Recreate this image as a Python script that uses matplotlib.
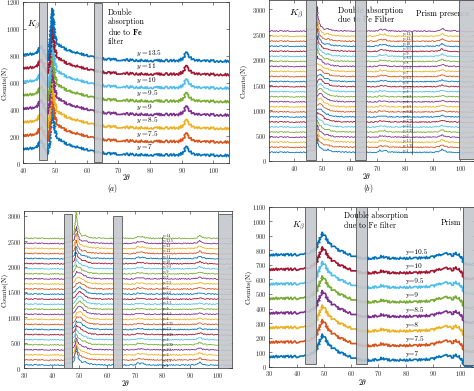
import numpy as np
import matplotlib
matplotlib.use("Agg")
import matplotlib.pyplot as plt
from matplotlib.patches import Rectangle

plt.rcParams["font.family"] = "serif"
plt.rcParams["font.serif"] = ["cmr10", "DejaVu Serif"]
plt.rcParams["mathtext.fontset"] = "cm"
plt.rcParams["axes.formatter.use_mathtext"] = True
plt.rcParams["axes.unicode_minus"] = False

matlab_colors = ["#0072BD", "#D95319", "#EDB120", "#7E2F8E", "#77AC30", "#4DBEEE", "#A2142F"]

# ---------------- panel (a) ----------------
xa = [40, 42, 44, 44.8, 45.5, 46.2, 46.8, 47.5, 48.2, 48.8, 49.3, 49.8, 50.3, 51, 52, 54, 56, 58, 60, 62,
      64, 66, 70, 75, 80, 85, 89, 90.5, 91.5, 92.3, 93.5, 96, 100, 105]
shape_a = [0, 0, 5, 30, 60, 40, 5, -45, 20, 200, 340, 170, 100, 75, 55, 30, 15, 5, -10, -20,
           -30, -35, -42, -45, -47, -48, -48, -30, 15, -15, -40, -48, -50, -52]
offsets_a = [110, 210, 310, 410, 510, 610, 710, 810]
labels_a = ["7", "7.5", "8.5", "9", "9.5", "10", "11", "13.5"]

# ---------------- panel (b) ----------------
xb = [31, 34, 37, 40, 42, 43.5, 44.5, 45.2, 45.8, 46.5, 47.2, 47.7, 48.0, 48.3, 48.7, 49.2, 49.7, 50.3, 51.0, 51.7,
      52.3, 53.0, 54.5, 57, 60, 63, 66, 68.5, 70.2, 71.0, 71.9, 72.8, 73.8, 76, 80, 84, 88, 91, 92.5, 93.5,
      94.5, 96, 98, 100, 102.5, 105]
sharp_b = [0, 0, 0, 0, 0, 0, 0, 0, 0, 0, 0.02, 0.12, 0.5, 1.0, 0.45, 0.2, 0.1, 0.05, 0.02, 0,
           0, 0, 0, 0, 0, 0, 0, 0, 0, 0, 0, 0, 0, 0, 0, 0, 0, 0, 0, 0,
           0, 0, 0, 0, 0, 0]
broad_b = [0, 0, 0, 0, 0, 0, 0, 0, 0, 0, 0, 0.1, 0.25, 0.45, 0.75, 0.95, 1.0, 0.75, 0.45, 0.28,
           0.18, 0.1, 0.04, 0, 0, 0, 0, 0, 0, 0, 0, 0, 0, 0, 0, 0, 0, 0, 0, 0,
           0, 0, 0, 0, 0, 0]
minor_b = [0, 0, 0, 0, 0, 0, 2, 30, 45, 30, 40, 30, 20, 10, 5, 0, 0, 0, 0, 25,
           45, 20, 10, 5, 0, 0, 0, -3, 5, 40, 22, 40, 8, 0, -3, -3, -2, 0, 15, 60,
           18, 2, 0, -5, -10, -10]
offsets_b = [170, 270, 370, 470, 570, 670, 770, 870, 970, 1070, 1170, 1270, 1370, 1470, 1570, 1670,
             1770, 1870, 1970, 2070, 2170, 2270, 2370, 2470, 2570]
amp_sharp_b = [230, 220, 200, 190, 180, 150, 120, 80, 50, 30, 20, 10, 10, 20, 30, 60, 100, 150, 200,
               240, 280, 320, 350, 380, 450]
amp_broad_b = [60, 70, 80, 90, 100, 120, 140, 150, 160, 170, 170, 170, 160, 150, 140, 130, 120, 110,
               100, 90, 80, 70, 60, 60, 50]
amp_minor_b = [1.0, 0.8, 0.9, 0.7, 0.8, 0.6, 0.6, 0.5, 0.5, 0.5, 0.4, 0.4, 0.4, 0.5, 0.5, 0.6, 0.6,
               0.7, 0.7, 0.8, 0.8, 0.9, 0.9, 1.0, 1.0]
labels_b = ["1", "1.25", "1.5", "2", "2.25", "2.5", "2.75", "3", "3.25", "3.5", "4", "4.5", "5",
            "5.5", "6", "6.5", "7", "7.5", "8", "8.5", "9", "9.5", "10", "12.5", "13.5"]

# ---------------- panel (c) ----------------
xc = [30, 34, 37, 40, 42, 43.5, 44.5, 45.2, 45.8, 46.5, 47.2, 47.9, 48.3, 48.6, 48.9, 49.3, 49.8, 50.3, 51.0, 51.7,
      52.3, 53.0, 54.5, 57, 60, 63, 66, 68.5, 70.2, 71.0, 71.9, 72.8, 73.8, 76, 80, 84, 88, 91, 92.5, 93.5,
      94.5, 96, 98, 100, 102.5, 105]
sharp_c = [0, 0, 0, 0, 0, 0, 0, 0, 0, 0, 0.02, 0.1, 0.35, 0.7, 1.0, 0.5, 0.2, 0.08, 0.03, 0,
           0, 0, 0, 0, 0, 0, 0, 0, 0, 0, 0, 0, 0, 0, 0, 0, 0, 0, 0, 0,
           0, 0, 0, 0, 0, 0]
broad_c = [0, 0, 0, 0, 0, 0, 0, 0, 0, 0, 0, 0.05, 0.15, 0.3, 0.5, 0.75, 0.95, 1.0, 0.7, 0.45,
           0.28, 0.15, 0.05, 0, 0, 0, 0, 0, 0, 0, 0, 0, 0, 0, 0, 0, 0, 0, 0, 0,
           0, 0, 0, 0, 0, 0]
minor_c = [0, 0, 0, 0, 0, -8, 2, 30, 45, 30, 40, 30, 20, 10, 5, 0, 0, 0, 0, 25,
           45, 20, 10, 5, 0, 0, 0, -3, 5, 40, 22, 40, 8, 0, -3, -3, -2, 0, 15, 60,
           18, 2, 0, -5, -10, -10]
offsets_c = [60, 160, 260, 360, 460, 560, 660, 760, 860, 960, 1060, 1160, 1260, 1360, 1460, 1560,
             1660, 1760, 1860, 1960, 2060, 2160, 2260, 2360, 2460, 2560]
amp_sharp_c = [330, 250, 200, 180, 160, 150, 120, 100, 80, 50, 30, 20, 10, 10, 20, 40, 60, 90, 120,
               150, 180, 200, 230, 260, 300, 480]
amp_broad_c = [60, 70, 80, 90, 100, 110, 120, 130, 140, 150, 160, 160, 160, 150, 140, 130, 120, 110,
               100, 90, 80, 70, 60, 60, 50, 50]
amp_minor_c = [1.0, 0.6, 0.7, 0.6, 0.8, 0.7, 0.6, 0.5, 0.5, 0.4, 0.4, 0.3, 0.3, 0.4, 0.4, 0.5, 0.5,
               0.6, 0.6, 0.7, 0.7, 0.8, 0.8, 0.9, 0.9, 1.0]
labels_c = ["1", "1.5", "2", "2.5", "2.75", "3", "3.25", "3.5", "3.75", "4", "4.5", "5", "5.5",
            "6", "6.5", "7", "7.5", "8", "9", "9.5", "10", "11", "12", "13", "13.5", "14"]

# ---------------- panel (d) ----------------
xd = [30, 35, 40, 42, 43.5, 45, 46, 47, 48, 49, 49.7, 50.5, 51.5, 53, 55, 57, 59, 61, 63, 65,
      68, 70, 71, 72, 75, 80, 85, 90, 92, 94.5, 96, 97, 98.5, 99.5, 100.5, 101.3, 103, 105]
shape_d = [0, 0, 0, 3, 5, 15, 25, 40, 80, 130, 150, 120, 90, 60, 35, 20, 5, -10, -20, -25,
           -25, -20, -10, -20, -25, -25, -22, -15, -5, 15, 0, -5, 10, 0, -15, -60, -62, -64]
offsets_d = [70, 170, 270, 370, 470, 570, 670, 770]
labels_d = ["7", "7.5", "8", "8.5", "9", "9.5", "10", "10.5"]

# shaded bands (x0, x1, y0, y1)
bands_a = [(44.9, 47.6, 25, 1200), (62.3, 64.8, 10, 1190)]
bands_b = [(44.2, 47.8, 20, 3185), (61.9, 65.8, 20, 3185), (99.7, 105, 40, 3185)]
bands_c = [(44.4, 47.4, 5, 3030), (62.2, 65.4, 5, 3000), (100, 105, 5, 3030)]
bands_d = [(43.1, 47.1, 16, 1100), (61.9, 65.7, 16, 1100), (101, 105, 10, 1100)]

W, H = 474, 391
fig = plt.figure(figsize=(W / 100, H / 100), dpi=100)


def add_axes(left, top, right, bottom):
    return fig.add_axes([left / W, 1 - bottom / H, (right - left) / W, (bottom - top) / H])


def style(ax, xlim, ylim, xticks, yticks, xlab_pos, ylab_x):
    ax.set_xlim(*xlim)
    ax.set_ylim(*ylim)
    ax.set_xticks(xticks)
    ax.set_yticks(yticks)
    ax.tick_params(direction="in", top=True, right=True, length=2, width=0.4,
                   labelsize=4.5, pad=2, colors="#262626")
    for s in ax.spines.values():
        s.set_linewidth(0.5)
        s.set_color("#262626")
    ax.set_xlabel(r"$2\theta$", fontsize=5.5)
    ax.set_ylabel("Counts(N)", fontsize=5.3)
    ax.xaxis.set_label_coords(*xlab_pos)
    ax.yaxis.set_label_coords(ylab_x, 0.5)


def bands(ax, items):
    for x0, x1, y0, y1 in items:
        ax.add_patch(Rectangle((x0, y0), x1 - x0, y1 - y0, facecolor=(0.77, 0.78, 0.80, 0.9),
                               edgecolor="#555555", lw=0.6, zorder=5, clip_on=True))


# (a)
ax = add_axes(23.3, 1.7, 229.3, 163.3)
for i, off in enumerate(offsets_a):
    ln, = ax.plot(xa, np.array(shape_a) + off, color=matlab_colors[i % 7], lw=1.2, zorder=2)
    ln.set_sketch_params(1.2, 2.0, 2.0)
    ax.text(75.5, off + 10, r"$y$ =" + labels_a[i], fontsize=5.2, ha="left", va="center", zorder=3)
bands(ax, bands_a)
ax.text(41.3, 1030, r"$K_\beta$", fontsize=6.5, va="center", zorder=4)
ax.text(66.6, 1150, "Double\nabsorption\ndue to $\\mathbf{Fe}$\nfilter", fontsize=5.7,
        va="top", ha="left", linespacing=1.05, zorder=6)
style(ax, (40, 105), (0, 1200), range(40, 101, 10), range(0, 1201, 200), (0.5, -0.055), -0.07)
fig.text(113 / W, 1 - 188 / H, r"$(a)$", fontsize=5.5, ha="center", va="center")

# (b)
ax = add_axes(269.3, 0, 474, 160.8)
xb_arr = np.array(xb)
for i, off in enumerate(offsets_b):
    yv = (off + amp_sharp_b[i] * np.array(sharp_b) + amp_broad_b[i] * np.array(broad_b)
          + amp_minor_b[i] * np.array(minor_b))
    ln, = ax.plot(xb_arr, yv, color=matlab_colors[i % 7], lw=0.6, zorder=2)
    ln.set_sketch_params(0.5, 1.5, 2.0)
    shift = 35 - 95 * i / (len(offsets_b) - 1)
    ax.text(79.3, off + shift, "y=" + labels_b[i], fontsize=2.6, ha="left", va="center", zorder=3)
ax.plot([82.7, 82.7], [125, 2555], color="#333333", lw=0.5, zorder=3)
ax.text(56, 3050, "Double absorption\ndue to Fe Filter", fontsize=5.8, va="top", ha="left",
        linespacing=1.1, zorder=4)
ax.text(84.1, 2920, "Prism presence", fontsize=5.8, va="center", ha="left", zorder=4)
ax.text(38, 2920, r"$K_\beta$", fontsize=7, va="center", zorder=4)
bands(ax, bands_b)
style(ax, (31, 105), (0, 3185), range(40, 101, 10), range(0, 3001, 500), (0.477, -0.064), -0.105)
fig.text(368.7 / W, 1 - 188 / H, r"$(b)$", fontsize=5.5, ha="center", va="center")

# (c)
ax = add_axes(24, 210.9, 231.7, 368)
for i, off in enumerate(offsets_c):
    yv = (off + amp_sharp_c[i] * np.array(sharp_c) + amp_broad_c[i] * np.array(broad_c)
          + amp_minor_c[i] * np.array(minor_c))
    ln, = ax.plot(xc, yv, color=matlab_colors[i % 7], lw=0.6, zorder=2)
    ln.set_sketch_params(0.5, 1.5, 2.0)
    shift = -15 + 65 * i / (len(offsets_c) - 1)
    ax.text(80.1, off + shift, "y=" + labels_c[i], fontsize=2.6, ha="left", va="center", zorder=3)
ax.plot([79.8, 79.8], [0, 2590], color="#333333", lw=0.5, zorder=3)
bands(ax, bands_c)
style(ax, (30, 105), (0, 3100), range(30, 101, 10), range(0, 3001, 500), (0.49, -0.065), -0.075)
fig.text(113 / W, 1 - 389 / H, r"$(c)$", fontsize=5.5, ha="center", va="top")

# (d)
ax = add_axes(269.3, 206.7, 474, 366.7)
for i, off in enumerate(offsets_d):
    ln, = ax.plot(xd, np.array(shape_d) + off, color=matlab_colors[i % 7], lw=1.2, zorder=2)
    ln.set_sketch_params(1.2, 2.0, 2.0)
    ax.text(80, off + 20, "y=" + labels_d[i], fontsize=5.2, ha="left", va="center", zorder=6)
bands(ax, bands_d)
ax.text(38.4, 967, r"$K_\beta$", fontsize=6.3, va="center", zorder=6)
ax.text(57.4, 1068, "Double absorption\ndue to Fe filter", fontsize=5.7, va="top", ha="left",
        linespacing=1.25, zorder=6)
ax.text(92.8, 990, "Prism", fontsize=5.7, va="center", ha="left", zorder=6)
style(ax, (30, 105), (0, 1100), range(30, 101, 10), range(0, 1101, 100), (0.458, -0.065), -0.082)
fig.text(363 / W, 1 - 389 / H, r"$(d)$", fontsize=5.5, ha="center", va="top")

fig.savefig("out.png", dpi=100)
